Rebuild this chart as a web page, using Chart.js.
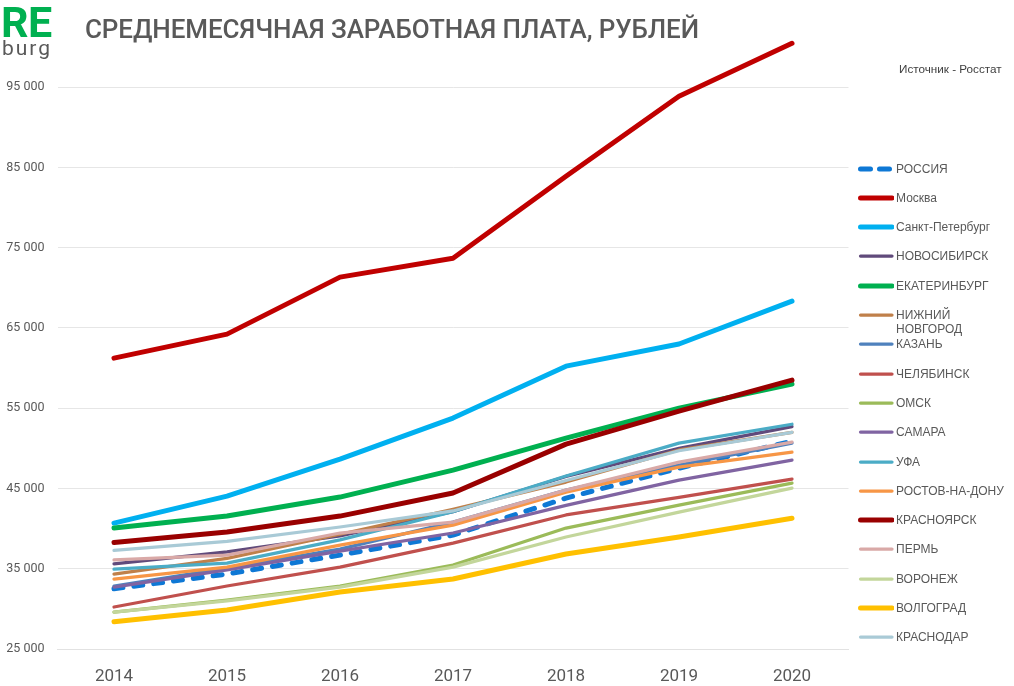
<!DOCTYPE html>
<html lang="ru">
<head>
<meta charset="utf-8">
<title>Среднемесячная заработная плата</title>
<script src="https://cdn.jsdelivr.net/npm/chart.js@4/dist/chart.umd.js"></script>
<style>
  html, body { margin: 0; padding: 0; background: #fff; }
  #wrap { position: relative; width: 1014px; height: 686px; overflow: hidden; }
  #wrap div { position: absolute; white-space: nowrap; }
  #logo1 { left: 1px; top: 2px; font: 700 43px/40px Roboto; color: #00b050; letter-spacing: -0.5px; }
  #logo2 { left: 2px; top: 35px; font: 400 21px/26px Roboto; color: #595959; letter-spacing: 2px; }
  #title { left: 85px; top: 13px; font: 500 26px/32px Roboto; color: #595959; letter-spacing: -0.1px; }
  #source { left: 899px; top: 62px; font: 400 11.7px/14px "Liberation Sans"; color: #404040; }
  .leg-text { left: 896px; font: 400 12px/14px "Liberation Sans"; color: #595959; }
  .leg-line { left: 858px; width: 36px; height: 6px; }
  .leg-line svg { display: block; }
</style>
</head>
<body>
<div id="wrap">
  <canvas id="chart" width="1014" height="686"></canvas>
  <div id="logo1">RE</div>
  <div id="logo2">burg</div>
  <div id="title">СРЕДНЕМЕСЯЧНАЯ ЗАРАБОТНАЯ ПЛАТА, РУБЛЕЙ</div>
  <div id="source">Источник - Росстат</div>
</div>
<script>
const years = ["2014", "2015", "2016", "2017", "2018", "2019", "2020"];
const yTicks = [25000, 35000, 45000, 55000, 65000, 75000, 85000, 95000];

const russia = [32500, 34340, 36700, 39190, 43800, 47530, 50900];
const moscow = [61240, 64230, 71330, 73690, 83900, 93870, 100470];
const spb = [40690, 44050, 48660, 53770, 60240, 63000, 68340];
const novosibirsk = [35600, 37100, 39100, 42100, 46500, 50000, 52700];
const ekb = [40070, 41560, 43930, 47290, 51280, 55010, 58000];
const nizhny = [34340, 36300, 39300, 42400, 45800, 49800, 52000];
const kazan = [32850, 35080, 37450, 40800, 44800, 47900, 50650];
const chelyabinsk = [30230, 32850, 35200, 38200, 41700, 43900, 46170];
const omsk = [29600, 31100, 32850, 35460, 40070, 42930, 45670];
const samara = [32720, 34850, 37200, 39450, 42900, 46050, 48540];
const ufa = [34950, 35700, 38600, 42100, 46550, 50650, 53000];
const rostov = [33720, 35200, 37950, 40440, 44550, 47660, 49530];
const krasnoyarsk = [38280, 39570, 41560, 44430, 50530, 54640, 58500];
const perm = [36100, 36700, 39450, 40800, 44800, 48290, 50780];
const voronezh = [29600, 31000, 32700, 35200, 38950, 42060, 45050];
const volgograd = [28400, 29850, 32100, 33720, 36830, 38950, 41300];
const krasnodar = [37300, 38400, 40200, 42200, 46000, 49700, 52000];

// name, values, colour, width, dashed
const series = [
  ["РОССИЯ", russia, "#0e78d5", 5, true],
  ["Москва", moscow, "#c00000", 5, false],
  ["Санкт-Петербург", spb, "#00b0f0", 5, false],
  ["НОВОСИБИРСК", novosibirsk, "#604a7b", 3.25, false],
  ["ЕКАТЕРИНБУРГ", ekb, "#00b050", 5, false],
  ["НИЖНИЙ НОВГОРОД", nizhny, "#c0804a", 3.25, false],
  ["КАЗАНЬ", kazan, "#4f81bd", 3.25, false],
  ["ЧЕЛЯБИНСК", chelyabinsk, "#c0504d", 3.25, false],
  ["ОМСК", omsk, "#9bbb59", 3.25, false],
  ["САМАРА", samara, "#8064a2", 3.25, false],
  ["УФА", ufa, "#4bacc6", 3.25, false],
  ["РОСТОВ-НА-ДОНУ", rostov, "#f79646", 3.25, false],
  ["КРАСНОЯРСК", krasnoyarsk, "#990000", 5, false],
  ["ПЕРМЬ", perm, "#d9a9a7", 3.25, false],
  ["ВОРОНЕЖ", voronezh, "#c3d69b", 3.25, false],
  ["ВОЛГОГРАД", volgograd, "#ffc000", 5, false],
  ["КРАСНОДАР", krasnodar, "#a9cad6", 3.25, false],
];

new Chart(document.getElementById("chart").getContext("2d"), {
  type: "line",
  data: {
    labels: years,
    datasets: series.map((s, i) => ({
      label: s[0],
      data: s[1],
      borderColor: s[2],
      backgroundColor: s[2],
      borderWidth: s[3],
      borderDash: s[4] ? [9, 11] : [],
      borderCapStyle: "round",
      borderJoinStyle: "round",
      pointRadius: 0,
      tension: 0,
      // later series sit on top, like in the original
      order: series.length - i,
    })),
  },
  options: {
    responsive: false,
    animation: false,
    layout: { padding: { top: 39, right: 165.5, left: 0, bottom: 0 } },
    plugins: {
      legend: { display: false },
      tooltip: { enabled: false },
    },
    scales: {
      x: {
        offset: true,
        grid: { display: false },
        border: { color: "#e2e2e2" },
        afterFit: (axis) => { axis.height = 37; },
        ticks: {
          color: "#595959",
          padding: 10,
          maxRotation: 0,
          font: { family: "Roboto", size: 17 },
        },
      },
      y: {
        min: 25000,
        max: 101000,
        afterBuildTicks: (axis) => { axis.ticks = yTicks.map((v) => ({ value: v })); },
        afterFit: (axis) => { axis.width = 57.5; },
        grid: { color: "#e6e6e6", drawTicks: false },
        border: { display: false },
        ticks: {
          color: "#595959",
          padding: 13,
          font: { family: "Roboto", size: 12.5 },
          callback: (v) => String(v).replace(/(\d)(\d{3})$/, "$1 $2"),
        },
      },
    },
  },
});

// legend, built by hand because one name wraps on two lines
const wrap = document.getElementById("wrap");
series.forEach((s, i) => {
  const y = 168.5 + i * 29.3;
  const line = document.createElement("div");
  line.className = "leg-line";
  line.style.top = (y - 3) + "px";
  const dash = s[4] ? ' stroke-dasharray="10 9"' : "";
  line.innerHTML = '<svg width="36" height="6"><line x1="2.5" y1="3" x2="34" y2="3" stroke="' + s[2] +
    '" stroke-width="' + s[3] + '" stroke-linecap="round"' + dash + "/></svg>";
  wrap.appendChild(line);
  const text = document.createElement("div");
  text.className = "leg-text";
  text.style.top = (y - 7) + "px";
  text.innerHTML = s[0] === "НИЖНИЙ НОВГОРОД" ? "НИЖНИЙ<br>НОВГОРОД" : s[0];
  wrap.appendChild(text);
});
</script>
</body>
</html>
